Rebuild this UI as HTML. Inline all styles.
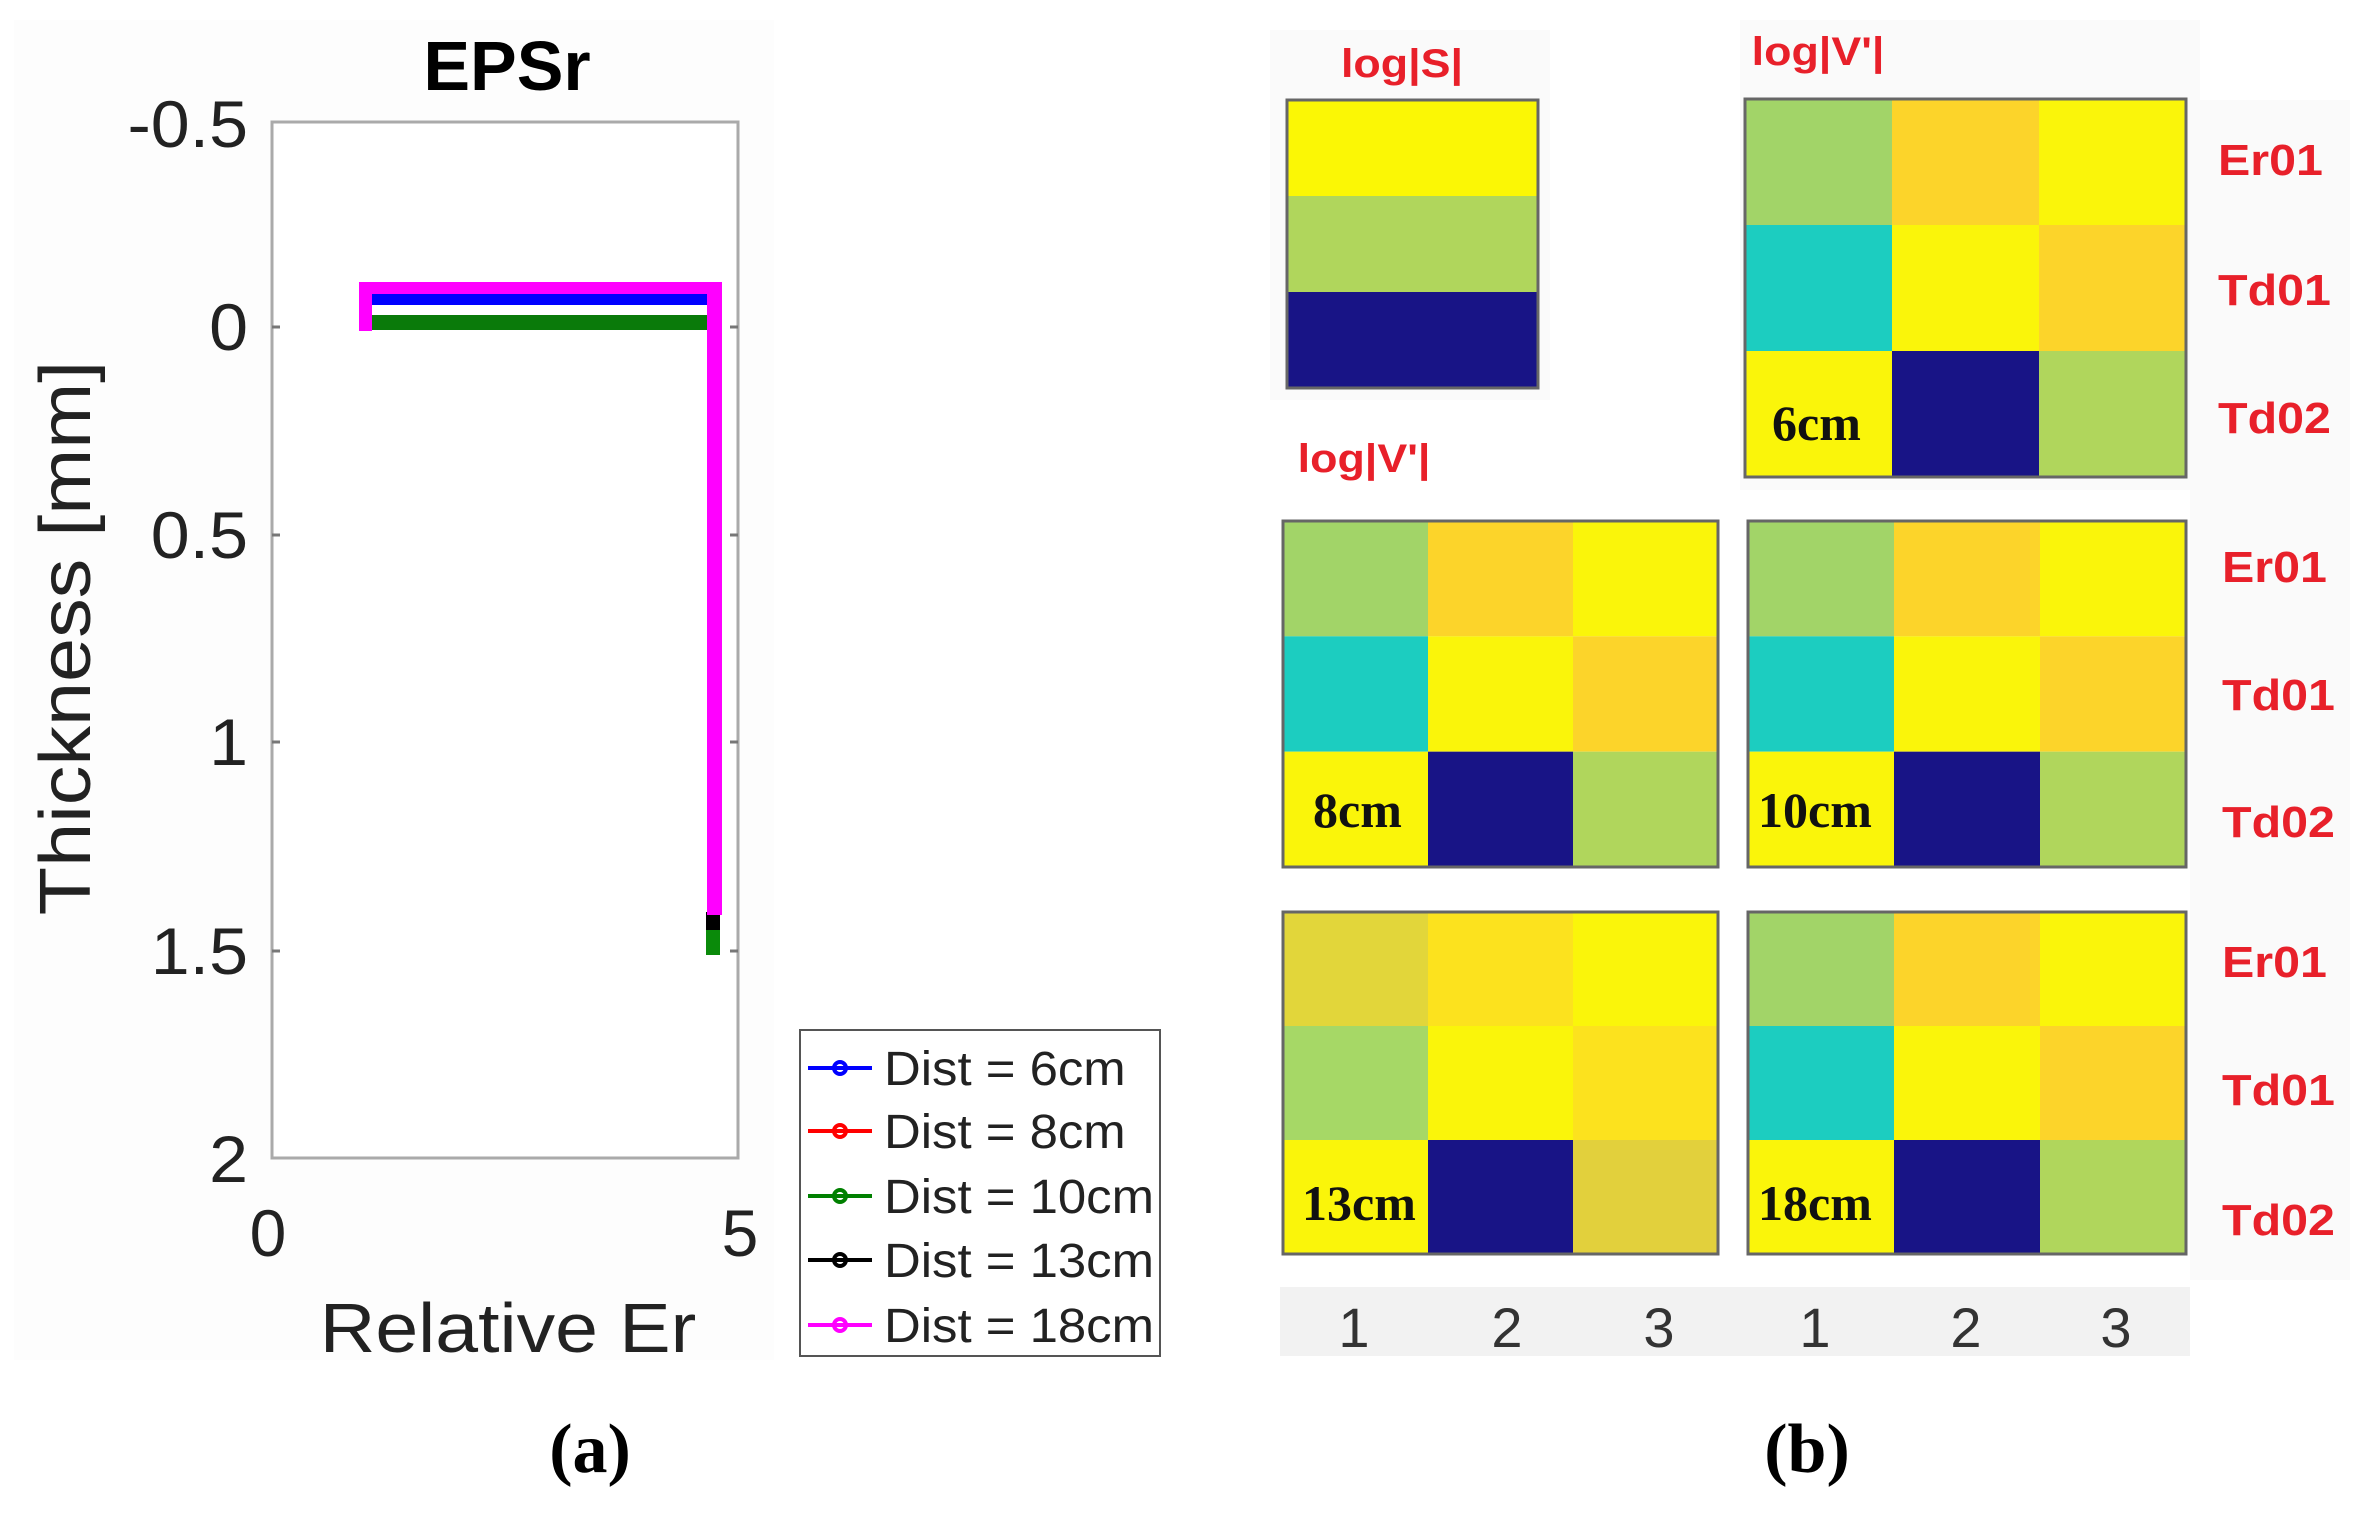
<!DOCTYPE html>
<html><head><meta charset="utf-8"><style>
html,body{margin:0;padding:0;background:#fff;}
svg{display:block;}
.s{font-family:"Liberation Sans",sans-serif;}
.r{font-family:"Liberation Serif",serif;font-weight:bold;}
.red{fill:#e8202a;font-family:"Liberation Sans",sans-serif;font-weight:bold;}
</style></head><body>
<svg width="2353" height="1522" viewBox="0 0 2353 1522" xmlns="http://www.w3.org/2000/svg">
<rect width="2353" height="1522" fill="#fff"/>
<!-- left panel -->
<rect x="14" y="20" width="760" height="1340" fill="#fdfdfd"/>
<rect x="272" y="122" width="466" height="1036" fill="#fff" stroke="#aaa" stroke-width="3"/>
<g stroke="#777" stroke-width="3">
<line x1="272" y1="327" x2="280" y2="327"/><line x1="272" y1="535" x2="280" y2="535"/><line x1="272" y1="742" x2="280" y2="742"/><line x1="272" y1="951" x2="280" y2="951"/>
<line x1="730" y1="327" x2="738" y2="327"/><line x1="730" y1="535" x2="738" y2="535"/><line x1="730" y1="742" x2="738" y2="742"/><line x1="730" y1="951" x2="738" y2="951"/>
</g>
<text x="507" y="90" class="s" font-size="70" font-weight="bold" text-anchor="middle">EPSr</text>
<g class="s" font-size="66" fill="#222" text-anchor="end" transform="translate(248,0) scale(1.06,1) translate(-248,0)">
<text x="248" y="147">-0.5</text><text x="248" y="350">0</text><text x="248" y="558">0.5</text><text x="248" y="765">1</text><text x="248" y="974">1.5</text><text x="248" y="1182">2</text>
</g>
<g class="s" font-size="66" fill="#222" text-anchor="middle">
<text x="268" y="1256">0</text><text x="740" y="1256">5</text>
</g>
<text transform="translate(90,638) rotate(-90) scale(1.1,1)" class="s" font-size="72" fill="#222" text-anchor="middle">Thickness [mm]</text>
<text transform="translate(508,1352) scale(1.1,1)" class="s" font-size="70" fill="#222" text-anchor="middle">Relative Er</text>
<!-- lines -->
<rect x="372" y="315" width="336" height="15" fill="#0a7a0a"/>
<rect x="372" y="294" width="336" height="11" fill="#0000ff"/>
<rect x="706" y="915" width="14" height="40" fill="#0a8a0a"/>
<rect x="706" y="912" width="14" height="18" fill="#000"/>
<rect x="359" y="282" width="363" height="12" fill="#ff00ff"/>
<rect x="359" y="282" width="13" height="49" fill="#ff00ff"/>
<rect x="707" y="282" width="15" height="633" fill="#ff00ff"/>
<!-- legend -->
<rect x="800" y="1030" width="360" height="326" fill="#fff" stroke="#555" stroke-width="2"/>
<g stroke-width="4" fill="none">
<line x1="808" y1="1068" x2="872" y2="1068" stroke="#0000ff"/><circle cx="840" cy="1068" r="6" stroke="#0000ff"/>
<line x1="808" y1="1131" x2="872" y2="1131" stroke="#ff0000"/><circle cx="840" cy="1131" r="6" stroke="#ff0000"/>
<line x1="808" y1="1196" x2="872" y2="1196" stroke="#008000"/><circle cx="840" cy="1196" r="6" stroke="#008000"/>
<line x1="808" y1="1260" x2="872" y2="1260" stroke="#000"/><circle cx="840" cy="1260" r="6" stroke="#000"/>
<line x1="808" y1="1325" x2="872" y2="1325" stroke="#ff00ff"/><circle cx="840" cy="1325" r="6" stroke="#ff00ff"/>
</g>
<g class="s" font-size="48" fill="#222" transform="translate(884,0) scale(1.06,1) translate(-884,0)">
<text x="884" y="1085">Dist = 6cm</text><text x="884" y="1148">Dist = 8cm</text><text x="884" y="1213">Dist = 10cm</text><text x="884" y="1277">Dist = 13cm</text><text x="884" y="1342">Dist = 18cm</text>
</g>
<text x="590" y="1472" class="r" font-size="70" text-anchor="middle">(a)</text>

<!-- right panel backgrounds -->
<rect x="1270" y="30" width="280" height="370" fill="#fafafa"/>
<rect x="1740" y="20" width="460" height="470" fill="#fafafa"/>
<rect x="1280" y="1287" width="910" height="69" fill="#f2f2f2"/>
<rect x="2190" y="100" width="160" height="1180" fill="#fafafa"/>
<!-- log|S| -->
<rect x="1287" y="100" width="251" height="96" fill="#fbf705"/>
<rect x="1287" y="196" width="251" height="96" fill="#b0d65c"/>
<rect x="1287" y="292" width="251" height="96" fill="#181486"/>
<rect x="1287" y="100" width="251" height="288" fill="none" stroke="#666" stroke-width="3"/>
<g class="red" font-size="40" text-anchor="middle">
<text transform="translate(1402,77) scale(1.12,1)">log|S|</text>
<text transform="translate(1818,65) scale(1.12,1)">log|V'|</text>
<text transform="translate(1364,472) scale(1.12,1)">log|V'|</text>
</g>

<defs>
<g id="m">
<rect x="0" y="0" width="1" height="1" fill="#a2d468"/><rect x="1" y="0" width="1" height="1" fill="#fcd42a"/><rect x="2" y="0" width="1" height="1" fill="#faf50a"/>
<rect x="0" y="1" width="1" height="1" fill="#1ccdc0"/><rect x="1" y="1" width="1" height="1" fill="#faf50a"/><rect x="2" y="1" width="1" height="1" fill="#fcd42a"/>
<rect x="0" y="2" width="1" height="1" fill="#faf50a"/><rect x="1" y="2" width="1" height="1" fill="#181486"/><rect x="2" y="2" width="1" height="1" fill="#b0d65c"/>
</g>
<g id="m13">
<rect x="0" y="0" width="1" height="1" fill="#e2d63a"/><rect x="1" y="0" width="1" height="1" fill="#fce21e"/><rect x="2" y="0" width="1" height="1" fill="#faf50a"/>
<rect x="0" y="1" width="1" height="1" fill="#a6d866"/><rect x="1" y="1" width="1" height="1" fill="#faf50a"/><rect x="2" y="1" width="1" height="1" fill="#fce21e"/>
<rect x="0" y="2" width="1" height="1" fill="#faf50a"/><rect x="1" y="2" width="1" height="1" fill="#181486"/><rect x="2" y="2" width="1" height="1" fill="#e2d03c"/>
</g>
</defs>
<svg x="1745" y="99" width="441" height="378" viewBox="0 0 3 3" preserveAspectRatio="none"><use href="#m"/></svg>
<svg x="1283" y="521" width="435" height="346" viewBox="0 0 3 3" preserveAspectRatio="none"><use href="#m"/></svg>
<svg x="1748" y="521" width="438" height="346" viewBox="0 0 3 3" preserveAspectRatio="none"><use href="#m"/></svg>
<svg x="1283" y="912" width="435" height="342" viewBox="0 0 3 3" preserveAspectRatio="none"><use href="#m13"/></svg>
<svg x="1748" y="912" width="438" height="342" viewBox="0 0 3 3" preserveAspectRatio="none"><use href="#m"/></svg>
<g fill="none" stroke="#666" stroke-width="3">
<rect x="1745" y="99" width="441" height="378"/><rect x="1283" y="521" width="435" height="346"/><rect x="1748" y="521" width="438" height="346"/><rect x="1283" y="912" width="435" height="342"/><rect x="1748" y="912" width="438" height="342"/>
</g>
<g class="r" font-size="50" fill="#111">
<text x="1772" y="440">6cm</text><text x="1313" y="827">8cm</text><text x="1758" y="827">10cm</text><text x="1302" y="1220">13cm</text><text x="1758" y="1220">18cm</text>
</g>
<g class="red" font-size="44">
<text transform="translate(2218,175) scale(1.1,1)">Er01</text><text transform="translate(2218,305) scale(1.1,1)">Td01</text><text transform="translate(2218,433) scale(1.1,1)">Td02</text>
<text transform="translate(2222,582) scale(1.1,1)">Er01</text><text transform="translate(2222,710) scale(1.1,1)">Td01</text><text transform="translate(2222,837) scale(1.1,1)">Td02</text>
<text transform="translate(2222,977) scale(1.1,1)">Er01</text><text transform="translate(2222,1105) scale(1.1,1)">Td01</text><text transform="translate(2222,1235) scale(1.1,1)">Td02</text>
</g>
<g class="s" font-size="56" fill="#333" text-anchor="middle">
<text x="1354" y="1347">1</text><text x="1507" y="1347">2</text><text x="1659" y="1347">3</text>
<text x="1815" y="1347">1</text><text x="1966" y="1347">2</text><text x="2116" y="1347">3</text>
</g>
<text x="1807" y="1472" class="r" font-size="70" text-anchor="middle">(b)</text>
</svg>
</body></html>
